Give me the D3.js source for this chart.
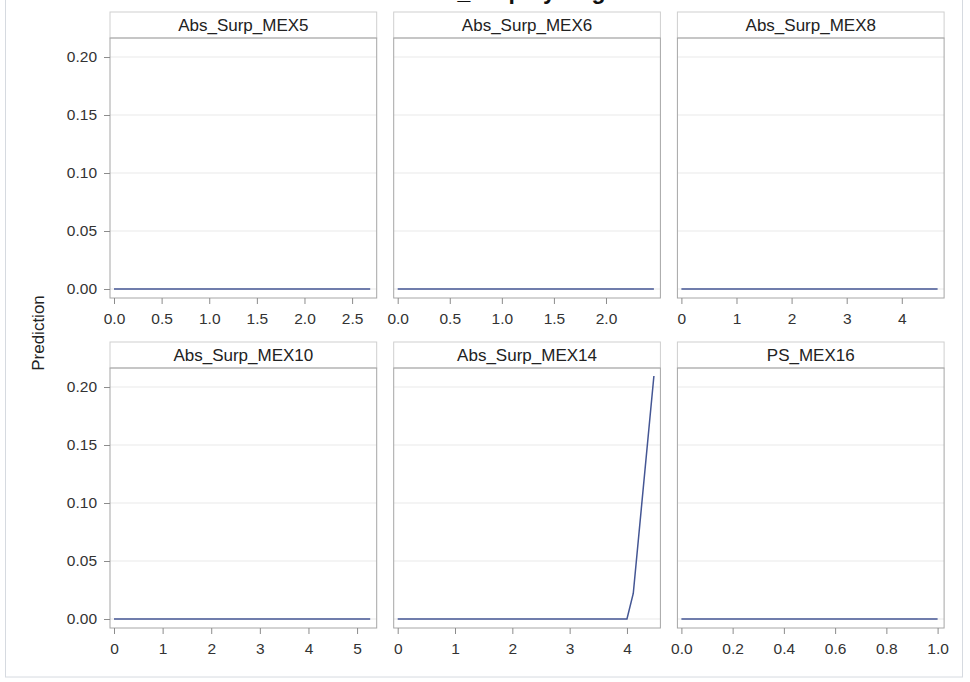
<!DOCTYPE html>
<html lang="en">
  <head>
    <meta charset="UTF-8" />
    <title>Prediction panels</title>
    <script src="https://d3js.org/d3.v7.min.js"></script>
    <style>
      body {
        margin: 0;
        background: white;
        font-family: 'Liberation Sans', Arial, sans-serif;
      }
      svg {
        display: block;
      }
      .tick text {
        fill: #333;
      }
      .tick line {
        stroke: #8c8c8c;
      }
    </style>
  </head>
  <body>
    <svg width="970" height="682"></svg>

    <script>
      // panel data
      const panelTitles = [
        'Abs_Surp_MEX5',
        'Abs_Surp_MEX6',
        'Abs_Surp_MEX8',
        'Abs_Surp_MEX10',
        'Abs_Surp_MEX14',
        'PS_MEX16',
      ];
      const xValues = [
        [0, 2.69],
        [0, 2.46],
        [0, 4.65],
        [0, 5.27],
        [0, 4.0, 4.11, 4.47],
        [0, 1.0],
      ];
      const yValues = [
        [0, 0],
        [0, 0],
        [0, 0],
        [0, 0],
        [0, 0, 0.022, 0.2095],
        [0, 0],
      ];
      const xTickLabels = [
        ['0.0', '0.5', '1.0', '1.5', '2.0', '2.5'],
        ['0.0', '0.5', '1.0', '1.5', '2.0'],
        ['0', '1', '2', '3', '4'],
        ['0', '1', '2', '3', '4', '5'],
        ['0', '1', '2', '3', '4'],
        ['0.0', '0.2', '0.4', '0.6', '0.8', '1.0'],
      ];
      const yTickLabels = ['0.00', '0.05', '0.10', '0.15', '0.20'];
      const yLabel = 'Prediction';
      const chartTitle = 'Abs_Surp by Region';

      const svg = d3.select('svg');

      const left = 110,
        panelW = 266.7,
        gap = 17,
        rowTops = [12, 342],
        headerH = 26,
        plotH = 260;

      // outer border (top runs off the picture)
      svg
        .append('rect')
        .attr('x', 5.5)
        .attr('y', -20)
        .attr('width', 957)
        .attr('height', 697)
        .attr('fill', 'none')
        .attr('stroke', '#d6dae0');

      // title, cut off at the top
      svg
        .append('text')
        .attr('x', left + (3 * panelW + 2 * gap) / 2)
        .attr('y', -1)
        .attr('text-anchor', 'middle')
        .attr('font-weight', 'bold')
        .attr('font-size', 23)
        .attr('fill', '#111')
        .text(chartTitle);

      const yMax = d3.max(yValues.flat());
      const yTicks = yTickLabels.map(Number);

      panelTitles.forEach((name, i) => {
        const col = i % 3,
          row = Math.floor(i / 3);
        const x0 = left + col * (panelW + gap);
        const top = rowTops[row] + headerH;
        const bottom = top + plotH;

        const x = d3
          .scaleLinear()
          .domain(d3.extent(xValues[i]))
          .range([x0 + 4, x0 + panelW - 6.5]);

        const y = d3
          .scaleLinear()
          .domain([0, yMax])
          .range([bottom - 9, top + 8]);

        const g = svg.append('g');

        // grid
        g.selectAll('.grid')
          .data(yTicks)
          .join('line')
          .attr('x1', x0)
          .attr('x2', x0 + panelW)
          .attr('y1', (d) => y(d))
          .attr('y2', (d) => y(d))
          .attr('stroke', '#e9e9e9');

        // header cell
        g.append('rect')
          .attr('x', x0)
          .attr('y', rowTops[row])
          .attr('width', panelW)
          .attr('height', headerH)
          .attr('fill', 'white')
          .attr('stroke', '#cfcfcf');

        g.append('text')
          .attr('x', x0 + panelW / 2)
          .attr('y', rowTops[row] + headerH / 2)
          .attr('dy', '0.36em')
          .attr('text-anchor', 'middle')
          .attr('font-size', 17)
          .attr('fill', '#222')
          .text(name);

        // wall frame
        g.append('rect')
          .attr('x', x0)
          .attr('y', top)
          .attr('width', panelW)
          .attr('height', plotH)
          .attr('fill', 'none')
          .attr('stroke', '#a6a6a6');

        const pts = xValues[i].map((v, k) => [v, yValues[i][k]]);
        g.append('path')
          .datum(pts)
          .attr('fill', 'none')
          .attr('stroke', '#445694')
          .attr('stroke-width', 1.5)
          .attr(
            'd',
            d3
              .line()
              .x((d) => x(d[0]))
              .y((d) => y(d[1])),
          );

        const xa = g
          .append('g')
          .attr('transform', `translate(0,${bottom})`)
          .call(
            d3
              .axisBottom(x)
              .tickValues(xTickLabels[i].map(Number))
              .tickFormat((d, k) => xTickLabels[i][k])
              .tickSize(6)
              .tickPadding(9),
          );
        xa.select('.domain').remove();
        xa.selectAll('text').attr('font-size', 15.5);

        if (col === 0) {
          const ya = g
            .append('g')
            .attr('transform', `translate(${x0},0)`)
            .call(
              d3
                .axisLeft(y)
                .tickValues(yTicks)
                .tickFormat((d, k) => yTickLabels[k])
                .tickSize(6)
                .tickPadding(7),
            );
          ya.select('.domain').remove();
          ya.selectAll('text').attr('font-size', 15.5);
        }
      });

      svg
        .append('text')
        .attr('transform', 'rotate(-90)')
        .attr('x', -(rowTops[0] + headerH + rowTops[1] + headerH + plotH) / 2)
        .attr('y', 38)
        .attr('dy', '0.36em')
        .attr('text-anchor', 'middle')
        .attr('font-size', 17)
        .attr('fill', '#222')
        .text(yLabel);
    </script>
  </body>
</html>
